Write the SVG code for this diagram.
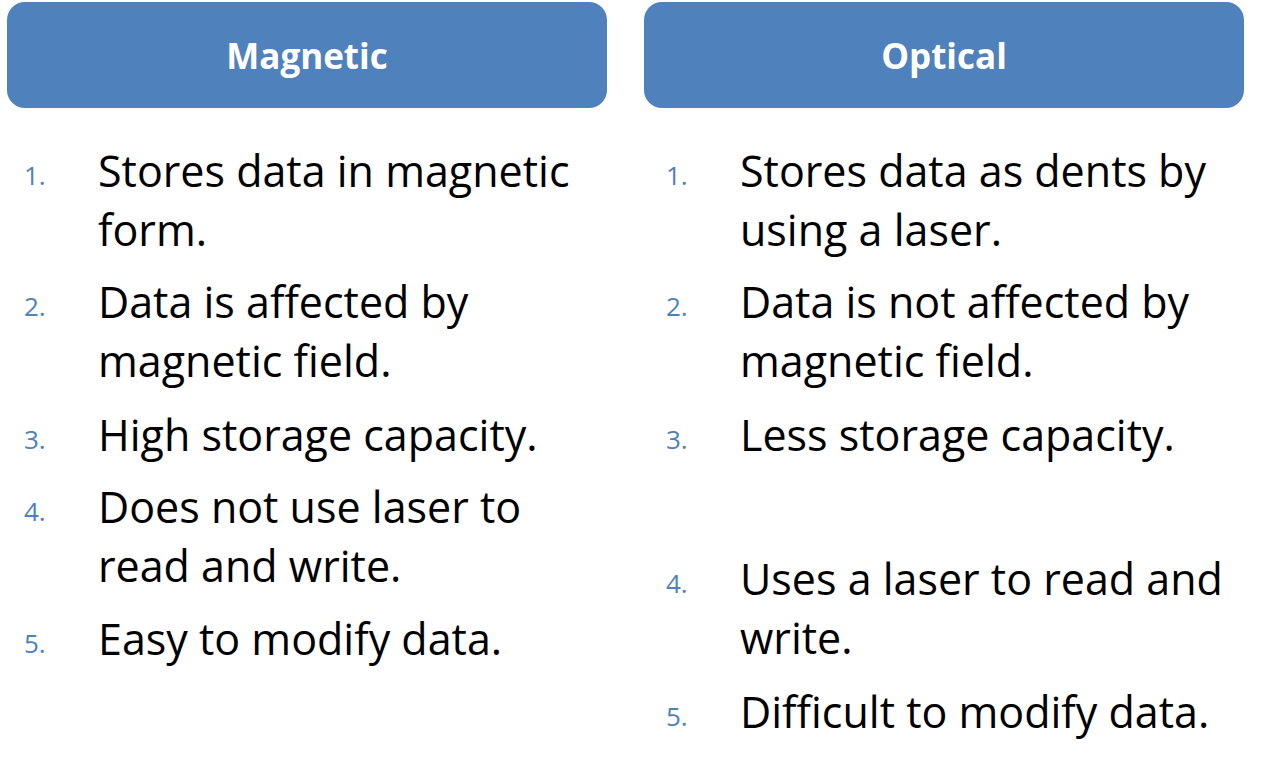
<svg xmlns="http://www.w3.org/2000/svg" width="1265" height="769" viewBox="0 0 1265 769">
<style>
.hdr{fill:#4F81BD}
.ht{font-family:"Open Sans","Liberation Sans",sans-serif;font-weight:bold;font-size:35px;fill:#fff;text-anchor:middle}
.t{font-family:"Open Sans","Liberation Sans",sans-serif;font-size:43px;fill:#000}
.n{font-family:"Open Sans","Liberation Sans",sans-serif;font-size:26px;fill:#4F81BD}
</style>
<rect width="1265" height="769" fill="#fff"/>
<g id="magnetic">
<rect class="hdr" x="7" y="2" width="600" height="106" rx="18"/>
<text class="ht" x="307" y="69">Magnetic</text>
<text class="n" x="24" y="185">1.</text><text class="t" x="98" y="187">Stores data in magnetic</text><text class="t" x="98" y="246">form.</text>
<text class="n" x="24" y="316">2.</text><text class="t" x="98" y="318">Data is affected by</text><text class="t" x="98" y="377">magnetic field.</text>
<text class="n" x="24" y="449">3.</text><text class="t" x="98" y="451">High storage capacity.</text>
<text class="n" x="24" y="521">4.</text><text class="t" x="98" y="523">Does not use laser to</text><text class="t" x="98" y="582">read and write.</text>
<text class="n" x="24" y="653">5.</text><text class="t" x="98" y="655">Easy to modify data.</text>
</g>
<g id="optical">
<rect class="hdr" x="644" y="2" width="600" height="106" rx="18"/>
<text class="ht" x="944" y="69">Optical</text>
<text class="n" x="666" y="185">1.</text><text class="t" x="740" y="187">Stores data as dents by</text><text class="t" x="740" y="246">using a laser.</text>
<text class="n" x="666" y="316">2.</text><text class="t" x="740" y="318">Data is not affected by</text><text class="t" x="740" y="377">magnetic field.</text>
<text class="n" x="666" y="449">3.</text><text class="t" x="740" y="451">Less storage capacity.</text>
<text class="n" x="666" y="593">4.</text><text class="t" x="740" y="595">Uses a laser to read and</text><text class="t" x="740" y="654">write.</text>
<text class="n" x="666" y="726">5.</text><text class="t" x="740" y="728">Difficult to modify data.</text>
</g>
<g id="connectors"/>
</svg>
